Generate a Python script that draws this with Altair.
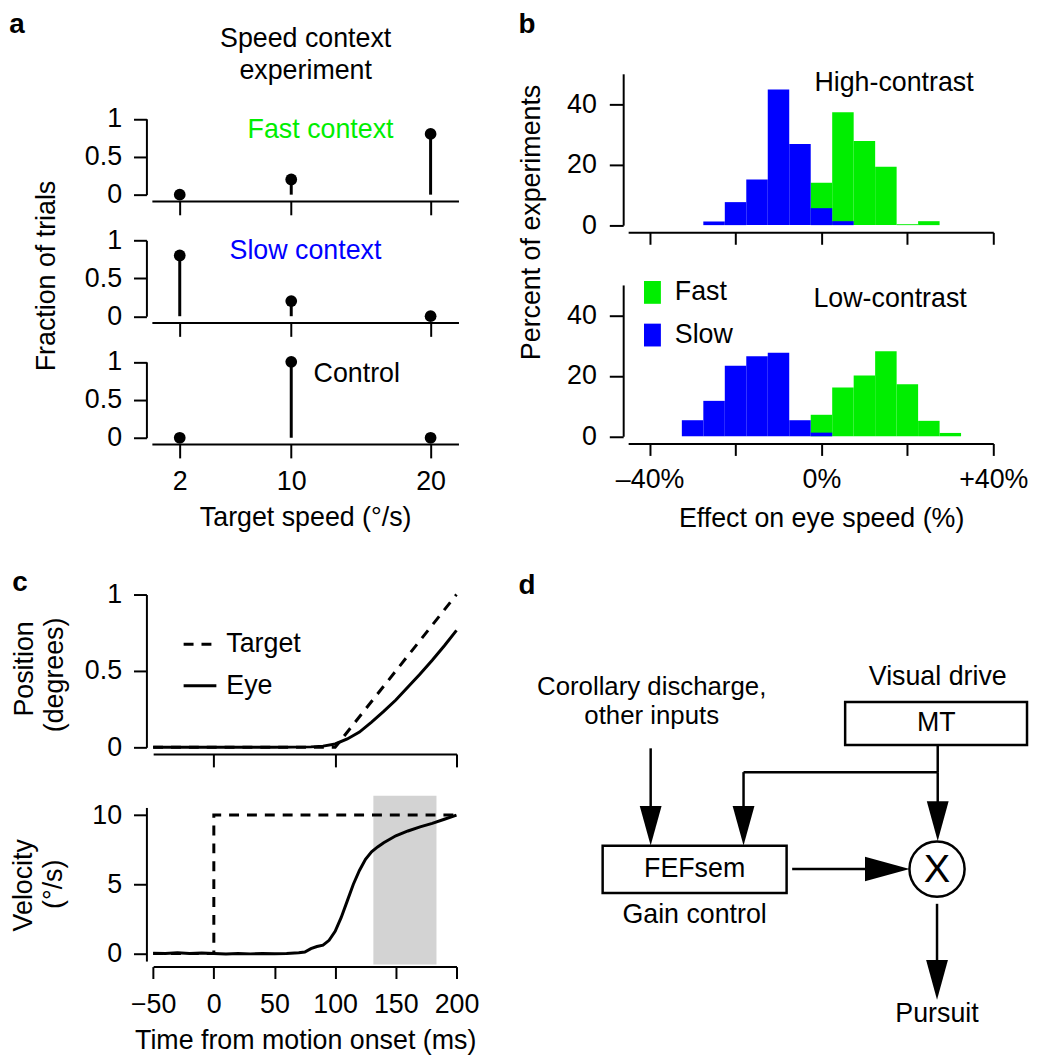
import altair as alt
import pandas as pd

FONT = "Liberation Sans"
FS = 27
GREEN = "#00ee00"
BLUE = "#0000ff"
GRAY = "#d3d3d3"
W, H = 1030, 1053
PAD = 8  # page margin

# ---------------- data: panel a ----------------
speeds = [2, 10, 20]
fast_context = [0.0, 0.2, 0.8]
slow_context = [0.8, 0.2, 0.0]
control = [0.0, 1.0, 0.0]

# ---------------- data: panel b (percent of experiments per 5% bin) ----------------
BIN_W = 5
high_slow_bins = [-25, -20, -15, -10, -5, 0, 5]
high_slow_pct = [1.2, 7.6, 15.1, 44.8, 26.8, 5.6, 1.3]
high_fast_bins = [0, 5, 10, 15, 20, 25]
high_fast_pct = [14.0, 37.3, 27.8, 19.3, 0.3, 1.3]
low_slow_bins = [-30, -25, -20, -15, -10, -5, 0]
low_slow_pct = [5.3, 11.7, 23.3, 26.4, 27.6, 5.3, 1.2]
low_fast_bins = [0, 5, 10, 15, 20, 25, 30]
low_fast_pct = [7.1, 16.1, 20.1, 28.1, 17.2, 5.1, 1.1]

# ---------------- data: panel c ----------------
pos_time = [-50, 0, 50, 80, 90, 100, 110, 120, 130, 140, 150, 160, 170, 180, 190, 200]
eye_pos = [0, 0, 0, 0.003, 0.008, 0.022, 0.055, 0.10, 0.165, 0.235, 0.31, 0.395, 0.48, 0.57, 0.665, 0.765]
target_pos_time = [-50, 100, 200]
target_pos = [0.0, 0.0, 1.0]
vel_time = [-50, -40, -30, -20, -10, 0, 10, 20, 30, 40, 50, 60, 70, 75, 80, 85, 90, 95, 100,
            105, 110, 115, 120, 125, 130, 135, 140, 150, 160, 170, 180, 190, 200]
eye_vel = [0.02, 0.0, 0.05, 0.0, 0.03, 0.0, -0.04, 0.0, -0.03, 0.0, -0.02, 0.0, 0.05, 0.1, 0.35,
           0.5, 0.6, 0.95, 1.6, 2.6, 3.8, 5.0, 6.0, 6.8, 7.35, 7.7, 8.0, 8.5, 8.85, 9.15, 9.4, 9.7, 10.0]
target_vel_time = [-50, 0, 0, 200]
target_vel = [0, 0, 10, 10]
window_ms = [131.5, 183.5]
window_v = [-0.8, 11.4]


def gx(p):
    return p - PAD


def gy(p):
    return p - PAD


def axis(orient, pos, values, labels=True, tick=13, pad=12, fmt=None, expr=None):
    off = -gx(pos) if orient == "left" else gy(pos) - H
    kw = dict(orient=orient, offset=off, values=values, labels=labels, tickSize=tick,
              labelPadding=pad, domainColor="black", domainWidth=2, tickColor="black",
              tickWidth=2, labelColor="black", labelFont=FONT, labelFontSize=FS,
              grid=False, title=None, labelFlush=False, labelOverlap=False, labelBound=False)
    if fmt:
        kw["format"] = fmt
    if expr:
        kw["labelExpr"] = expr
    return alt.Axis(**kw)


# ---------------- panel a ----------------
a_xs = alt.Scale(domain=[0, 22], range=[gx(153), gx(462)])


def stem_panel(vals, y0, show_labels):
    df = pd.DataFrame({"speed": speeds, "frac": vals, "base": [0] * len(vals)})
    ys = alt.Scale(domain=[0, 1], range=[gy(y0), gy(y0 - 76.5)])
    xa = axis("bottom", y0 + 6.3, speeds, labels=show_labels, tick=14, pad=11)
    ya = axis("left", 147.5, [0, 0.5, 1], fmt="~g")
    stems = alt.Chart(df).mark_rule(color="black", strokeWidth=3).encode(
        x=alt.X("speed:Q", scale=a_xs, axis=xa),
        y=alt.Y("frac:Q", scale=ys, axis=ya),
        y2="base:Q",
    )
    dots = alt.Chart(df).mark_circle(color="black", size=140, opacity=1).encode(
        x=alt.X("speed:Q", scale=a_xs, axis=xa),
        y=alt.Y("frac:Q", scale=ys, axis=ya),
    )
    return alt.layer(stems, dots)


panel_a = [
    stem_panel(fast_context, 192, False),
    stem_panel(slow_context, 314.5, False),
    stem_panel(control, 437, True),
]

# ---------------- panel b ----------------
b_xs = alt.Scale(domain=[-45, 40], range=[gx(633), gx(1001)])
pct_expr = ("datum.value == -40 ? '\u201340%' : (datum.value == 0 ? '0%' : "
            "(datum.value == 40 ? '+40%' : ''))")


def hist_panel(fast_bins, fast_pct, slow_bins, slow_pct, y0, show_labels):
    ys = alt.Scale(domain=[0, 50], range=[gy(y0), gy(y0 - 152.5)])
    xa = axis("bottom", y0 + 7.3, [-40, -20, 0, 20, 40], labels=show_labels, tick=12,
              pad=11, expr=pct_expr)
    ya = axis("left", 628, [0, 20, 40], tick=14, pad=13)
    layers = []
    for bins, pct, col in [(fast_bins, fast_pct, GREEN), (slow_bins, slow_pct, BLUE)]:
        df = pd.DataFrame({"c": bins, "v": pct})
        df["lo"] = df["c"] - BIN_W / 2
        df["hi"] = df["c"] + BIN_W / 2
        df["base"] = 0
        layers.append(alt.Chart(df).mark_rect(color=col, opacity=1).encode(
            x=alt.X("lo:Q", scale=b_xs, axis=xa), x2="hi:Q",
            y=alt.Y("v:Q", scale=ys, axis=ya), y2="base:Q"))
    return alt.layer(*layers)


panel_b = [
    hist_panel(high_fast_bins, high_fast_pct, high_slow_bins, high_slow_pct, 222.7, False),
    hist_panel(low_fast_bins, low_fast_pct, low_slow_bins, low_slow_pct, 435.5, True),
]

# ---------------- panel c ----------------
c_xs = alt.Scale(domain=[-50, 200], range=[gx(154.3), gx(460)])
pos_ys = alt.Scale(domain=[0, 1], range=[gy(749), gy(595)])
vel_ys = alt.Scale(domain=[-0.55, 10.55], range=[gy(964.4), gy(809.6)])

pos_xa = axis("bottom", 755.7, [0, 100, 200], labels=False, tick=13)
pos_ya = axis("left", 147.5, [0, 0.5, 1], fmt="~g")
df_tp = pd.DataFrame({"t": target_pos_time, "p": target_pos})
df_ep = pd.DataFrame({"t": pos_time, "p": eye_pos})
pos_panel = alt.layer(
    alt.Chart(df_tp).mark_line(color="black", strokeWidth=3, strokeDash=[10, 8]).encode(
        x=alt.X("t:Q", scale=c_xs, axis=pos_xa),
        y=alt.Y("p:Q", scale=pos_ys, axis=pos_ya)),
    alt.Chart(df_ep).mark_line(color="black", strokeWidth=3).encode(
        x=alt.X("t:Q", scale=c_xs, axis=pos_xa),
        y=alt.Y("p:Q", scale=pos_ys, axis=pos_ya)),
)

vel_xa = axis("bottom", 970, [-50, 0, 50, 100, 150, 200], tick=12, pad=13)
vel_ya = axis("left", 147.5, [0, 5, 10])
df_band = pd.DataFrame({"t": [window_ms[0]], "t1": [window_ms[1]], "v": [window_v[0]], "v1": [window_v[1]]})
df_tv = pd.DataFrame({"t": target_vel_time, "v": target_vel, "i": list(range(len(target_vel)))})
df_ev = pd.DataFrame({"t": vel_time, "v": eye_vel})
vel_panel = alt.layer(
    alt.Chart(df_band).mark_rect(color=GRAY, opacity=1).encode(
        x=alt.X("t:Q", scale=c_xs, axis=vel_xa), x2="t1:Q",
        y=alt.Y("v:Q", scale=vel_ys, axis=vel_ya), y2="v1:Q"),
    alt.Chart(df_tv).mark_line(color="black", strokeWidth=3, strokeDash=[10, 8]).encode(
        x=alt.X("t:Q", scale=c_xs, axis=vel_xa),
        y=alt.Y("v:Q", scale=vel_ys, axis=vel_ya),
        order="i:Q"),
    alt.Chart(df_ev).mark_line(color="black", strokeWidth=3).encode(
        x=alt.X("t:Q", scale=c_xs, axis=vel_xa),
        y=alt.Y("v:Q", scale=vel_ys, axis=vel_ya)),
)

# ---------------- figure-coordinate layer: labels, legends, diagram (panel d) ----------------
fx = alt.Scale(domain=[PAD, W + PAD], range=[0, W])
fy = alt.Scale(domain=[PAD, H + PAD], range=[0, H])


def enc(**kw):
    return dict(x=alt.X("x:Q", scale=fx, axis=None), y=alt.Y("y:Q", scale=fy, axis=None), **kw)


def texts(rows, **mk):
    df = pd.DataFrame(rows, columns=["x", "y", "t"])
    style = dict(font=FONT, fontSize=FS, color="black", baseline="middle", align="center")
    style.update(mk)
    return alt.Chart(df).mark_text(**style).encode(**enc(text="t:N"))


centered = [
    (308, 35, "Speed context"), (308, 67.5, "experiment"),
    (901, 80, "High-contrast"), (897, 297, "Low-contrast"),
    (308, 518, "Target speed (°/s)"), (828, 519, "Effect on eye speed (%)"),
    (308, 1045, "Time from motion onset (ms)"),
    (945, 678, "Visual drive"), (943.5, 725, "MT"), (700, 872, "FEFsem"),
    (700, 918, "Gain control"), (944.3, 1018, "Pursuit"),
]
two_line = [(656.7, 688, "Corollary discharge,"), (656.7, 717.5, "other inputs")]
left_texts = [
    (316, 372.5, "Control"), (680, 290, "Fast"), (680, 333, "Slow"),
    (228, 645, "Target"), (228, 687, "Eye"),
]
rotated = [
    (47, 274, "Fraction of trials"), (536, 220, "Percent of experiments"),
    (25, 670, "Position"), (55, 676, "(degrees)"),
    (24, 888, "Velocity"), (54, 887, "(°/s)"),
]
letters = [(17, 21, "a"), (531, 21, "b"), (20, 583, "c"), (531, 586, "d")]

# legend swatches (panel b)
swatches = pd.DataFrame({"x": [649, 649], "x2": [666, 666], "y": [279, 322], "y2": [302, 345],
                         "k": ["Fast", "Slow"]})
# legend lines (panel c)
leg_dash = pd.DataFrame({"x": [185], "x2": [215], "y": [645]})
leg_solid = pd.DataFrame({"x": [185], "x2": [218], "y": [687]})

# diagram
boxes = pd.DataFrame({"x": [851.7, 607.3], "x2": [1035, 792.7], "y": [703.3, 848.3], "y2": [746.7, 895.7]})
segments = pd.DataFrame({
    "x": [655.7, 945, 749.3, 749.3, 945, 798.3, 944.3],
    "y": [750, 746.7, 774, 774, 774, 871.7, 906.7],
    "x2": [655.7, 945, 945, 749.3, 945, 880, 944.3],
    "y2": [815, 774, 774, 815, 825, 871.7, 965],
})
down_heads = pd.DataFrame({"x": [655.7, 749.3, 945, 944.3], "y": [828, 828, 823.3, 983.3]})
right_heads = pd.DataFrame({"x": [894.2], "y": [871.7]})
node = pd.DataFrame({"x": [944.3], "y": [871.7]})

fig_layer = alt.layer(
    alt.Chart(swatches).mark_rect(opacity=1).encode(
        x=alt.X("x:Q", scale=fx, axis=None), x2="x2:Q",
        y=alt.Y("y:Q", scale=fy, axis=None), y2="y2:Q",
        color=alt.Color("k:N", scale=alt.Scale(domain=["Fast", "Slow"], range=[GREEN, BLUE]), legend=None)),
    alt.Chart(leg_dash).mark_rule(color="black", strokeWidth=3, strokeDash=[10, 8]).encode(
        x=alt.X("x:Q", scale=fx, axis=None), x2="x2:Q", y=alt.Y("y:Q", scale=fy, axis=None)),
    alt.Chart(leg_solid).mark_rule(color="black", strokeWidth=3).encode(
        x=alt.X("x:Q", scale=fx, axis=None), x2="x2:Q", y=alt.Y("y:Q", scale=fy, axis=None)),
    alt.Chart(segments).mark_rule(color="black", strokeWidth=2.5).encode(
        x=alt.X("x:Q", scale=fx, axis=None), x2="x2:Q",
        y=alt.Y("y:Q", scale=fy, axis=None), y2="y2:Q"),
    alt.Chart(boxes).mark_rect(fill="white", stroke="black", strokeWidth=2.5, opacity=1).encode(
        x=alt.X("x:Q", scale=fx, axis=None), x2="x2:Q",
        y=alt.Y("y:Q", scale=fy, axis=None), y2="y2:Q"),
    alt.Chart(down_heads).mark_point(shape="M-0.55,-1L0.55,-1L0,1Z", size=1600, filled=True,
                                     color="black", opacity=1).encode(**enc()),
    alt.Chart(right_heads).mark_point(shape="M-1,-0.55L1,0L-1,0.55Z", size=2025, filled=True,
                                      color="black", opacity=1).encode(**enc()),
    alt.Chart(node).mark_point(shape="circle", size=3091, filled=True, fill="white",
                               stroke="black", strokeWidth=2.5, opacity=1).encode(**enc()),
    texts([(944.3, 873, "X")], fontSize=40),
    texts(centered),
    texts(two_line, fontSize=26),
    texts([(323, 126.7, "Fast context")], color=GREEN),
    texts([(307.8, 249, "Slow context")], color=BLUE),
    texts(left_texts, align="left"),
    texts(rotated, angle=270),
    texts(letters, fontSize=28, fontWeight="bold"),
)

chart = alt.layer(
    *panel_a, *panel_b, pos_panel, vel_panel, fig_layer
).resolve_scale(
    x="independent", y="independent", color="independent"
).properties(
    width=W, height=H, autosize=alt.AutoSizeParams(type="none"), padding=0
).configure_view(stroke=None)

chart.save("out.html", embed_options={"renderer": "svg", "actions": False})
